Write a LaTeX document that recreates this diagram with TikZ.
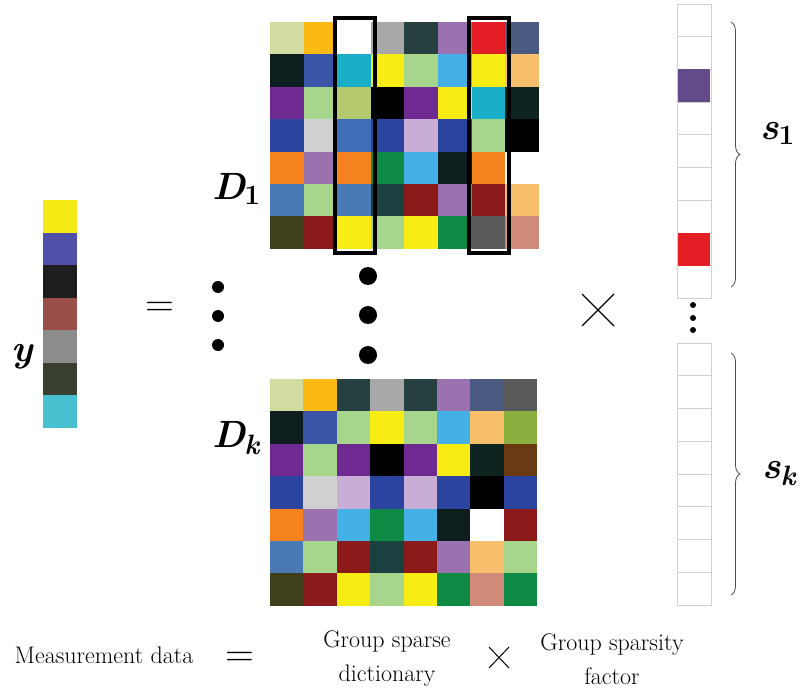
\documentclass[tikz,border=0pt]{standalone}
\usetikzlibrary{decorations.pathreplacing}
\definecolor{bg}{HTML}{D3DCA0}
\definecolor{oy}{HTML}{FDB913}
\definecolor{wh}{HTML}{FFFFFF}
\definecolor{gr}{HTML}{A8A8A8}
\definecolor{ds}{HTML}{26403F}
\definecolor{lv}{HTML}{9B72B0}
\definecolor{rd}{HTML}{E31E24}
\definecolor{sb}{HTML}{4A5A80}
\definecolor{nb}{HTML}{0E1E1E}
\definecolor{bl}{HTML}{3A55A8}
\definecolor{cy}{HTML}{1AAFC8}
\definecolor{ye}{HTML}{F7EC13}
\definecolor{lg}{HTML}{A8D58C}
\definecolor{sk}{HTML}{45B0E5}
\definecolor{pe}{HTML}{F8C06C}
\definecolor{pu}{HTML}{6E2A90}
\definecolor{og}{HTML}{B6C96E}
\definecolor{bk}{HTML}{000000}
\definecolor{dt}{HTML}{0E2420}
\definecolor{db}{HTML}{2A44A0}
\definecolor{lgy}{HTML}{D0D0D0}
\definecolor{mb}{HTML}{3E6EB8}
\definecolor{li}{HTML}{C8AED6}
\definecolor{orr}{HTML}{F6821F}
\definecolor{gn}{HTML}{0E8A45}
\definecolor{st}{HTML}{4A7AB5}
\definecolor{dtl}{HTML}{1A4040}
\definecolor{dr}{HTML}{8C1A1A}
\definecolor{do}{HTML}{3F3F1E}
\definecolor{dg}{HTML}{5A5A5A}
\definecolor{ro}{HTML}{D08A7A}
\definecolor{ol}{HTML}{8CB040}
\definecolor{br}{HTML}{6A3A14}
\definecolor{y1}{HTML}{F5EA14}
\definecolor{y2}{HTML}{5050A8}
\definecolor{y3}{HTML}{1E1E1E}
\definecolor{y4}{HTML}{9A5048}
\definecolor{y5}{HTML}{8C8C8C}
\definecolor{y6}{HTML}{3A4030}
\definecolor{y7}{HTML}{48C0D0}
\definecolor{spu}{HTML}{634A8A}
\definecolor{cellline}{HTML}{D0D0D0}
\tikzset{
  txt/.style={inner sep=0pt,font=\fontsize{24}{29}\selectfont},
  big/.style={inner sep=0pt,font=\fontsize{38}{42}\selectfont\bfseries\itshape},
  dot/.style={circle,fill=black,inner sep=0pt},
  frame/.style={draw=black,line width=4pt},
  cross/.style={draw=black,line width=1.2pt},
  brace/.style={decorate,decoration={brace,amplitude=9pt},draw=black!70,line width=0.8pt}
}
\newcommand{\drawgrid}[4]{% x0 y0 cellw rows
  \foreach \row [count=\r from 0] in {#4}{
    \foreach \c [count=\k from 0] in \row {
      \fill[\c] (#1+\k*#3,#2+\r*32.4) rectangle ++(#3,32.4);
    }
  }
}
\begin{document}
\begin{tikzpicture}[x=1pt,y=-1pt]
\useasboundingbox (0,0) rectangle (800,695);
% D1
\drawgrid{270}{22}{33.6}{{bg,oy,wh,gr,ds,lv,rd,sb},{nb,bl,cy,ye,lg,sk,ye,pe},{pu,lg,og,bk,pu,ye,cy,dt},{db,lgy,mb,db,li,db,lg,bk},{orr,lv,orr,gn,sk,nb,orr,wh},{st,lg,st,dtl,dr,lv,dr,pe},{do,dr,ye,lg,ye,gn,dg,ro}}
\draw[frame] (335,18) rectangle (375,253);
\draw[frame] (469,18) rectangle (509,253);
% Dk
\drawgrid{270}{379}{33.4}{{bg,oy,ds,gr,ds,lv,sb,dg},{nb,bl,lg,ye,lg,sk,pe,ol},{pu,lg,pu,bk,pu,ye,dt,br},{db,lgy,li,db,li,db,bk,db},{orr,lv,sk,gn,sk,nb,wh,dr},{st,lg,dr,dtl,dr,lv,pe,lg},{do,dr,ye,lg,ye,gn,ro,gn}}
% y vector
\foreach \c [count=\k from 0] in {y1,y2,y3,y4,y5,y6,y7}
  \fill[\c] (43,200+\k*32.5) rectangle ++(34,32.5);
% s vectors
\foreach \k in {0,...,8} \draw[cellline,line width=0.8pt] (677,4+\k*32.7) rectangle ++(34,32.7);
\fill[spu] (678,69.4) rectangle (710,102.1);
\fill[rd] (678,232.9) rectangle (710,265.6);
\foreach \k in {0,...,7} \draw[cellline,line width=0.8pt] (677,343+\k*32.75) rectangle ++(34,32.75);
% braces
\coordinate (b1a) at (731,22); \coordinate (b1b) at (731,287);
\coordinate (b2a) at (731,353); \coordinate (b2b) at (731,595);
\draw[brace] (b1a) -- (b1b);
\draw[brace] (b2a) -- (b2b);
% labels
\node[big] (ylab) at (22,357) {y};
\node[big,anchor=base west] (d1) at (212,200) {D\kern-1pt{\fontsize{28}{28}\selectfont\upshape\bfseries\raisebox{-5pt}{1}}};
\node[big,anchor=base west] (dk) at (212,447) {D\kern-1pt{\fontsize{28}{28}\selectfont\raisebox{-7pt}{k}}};
\node[big,anchor=base west] (s1) at (760,140) {s{\fontsize{28}{28}\selectfont\upshape\bfseries\raisebox{-5pt}{1}}};
\node[big,anchor=base west] (sk) at (762,478) {s{\fontsize{28}{28}\selectfont\raisebox{-7pt}{k}}};
\node[txt,font=\fontsize{40}{44}\selectfont] (eq) at (160,309) {=};
% multiplication crosses
\coordinate (xa) at (582,294); \coordinate (xb) at (614,326);
\coordinate (xc) at (582,326); \coordinate (xd) at (614,294);
\draw[cross] (xa) -- (xb); \draw[cross] (xc) -- (xd);
\coordinate (xe) at (489,647); \coordinate (xf) at (509,668);
\coordinate (xg) at (489,668); \coordinate (xh) at (509,647);
\draw[cross,line width=1pt] (xe) -- (xf); \draw[cross,line width=1pt] (xg) -- (xh);
% dots
\foreach \yy in {287,316,345} \node[dot,minimum size=12pt] at (218,\yy) {};
\foreach \yy in {276,315,355} \node[dot,minimum size=18pt] at (368,\yy) {};
\foreach \yy in {305,318,330} \node[dot,minimum size=6pt] at (693,\yy) {};
% bottom text
\node[txt] (md) at (104,655) {Measurement data};
\node[txt,font=\fontsize{40}{44}\selectfont] (eq2) at (240,659) {=};
\node[txt,align=center,font=\fontsize{24}{34}\selectfont] (gsd) at (387,659) {Group sparse\\dictionary};
\node[txt,align=center,font=\fontsize{24}{34}\selectfont] (gsf) at (612,659) {Group sparsity\\factor};
\end{tikzpicture}
\end{document}
